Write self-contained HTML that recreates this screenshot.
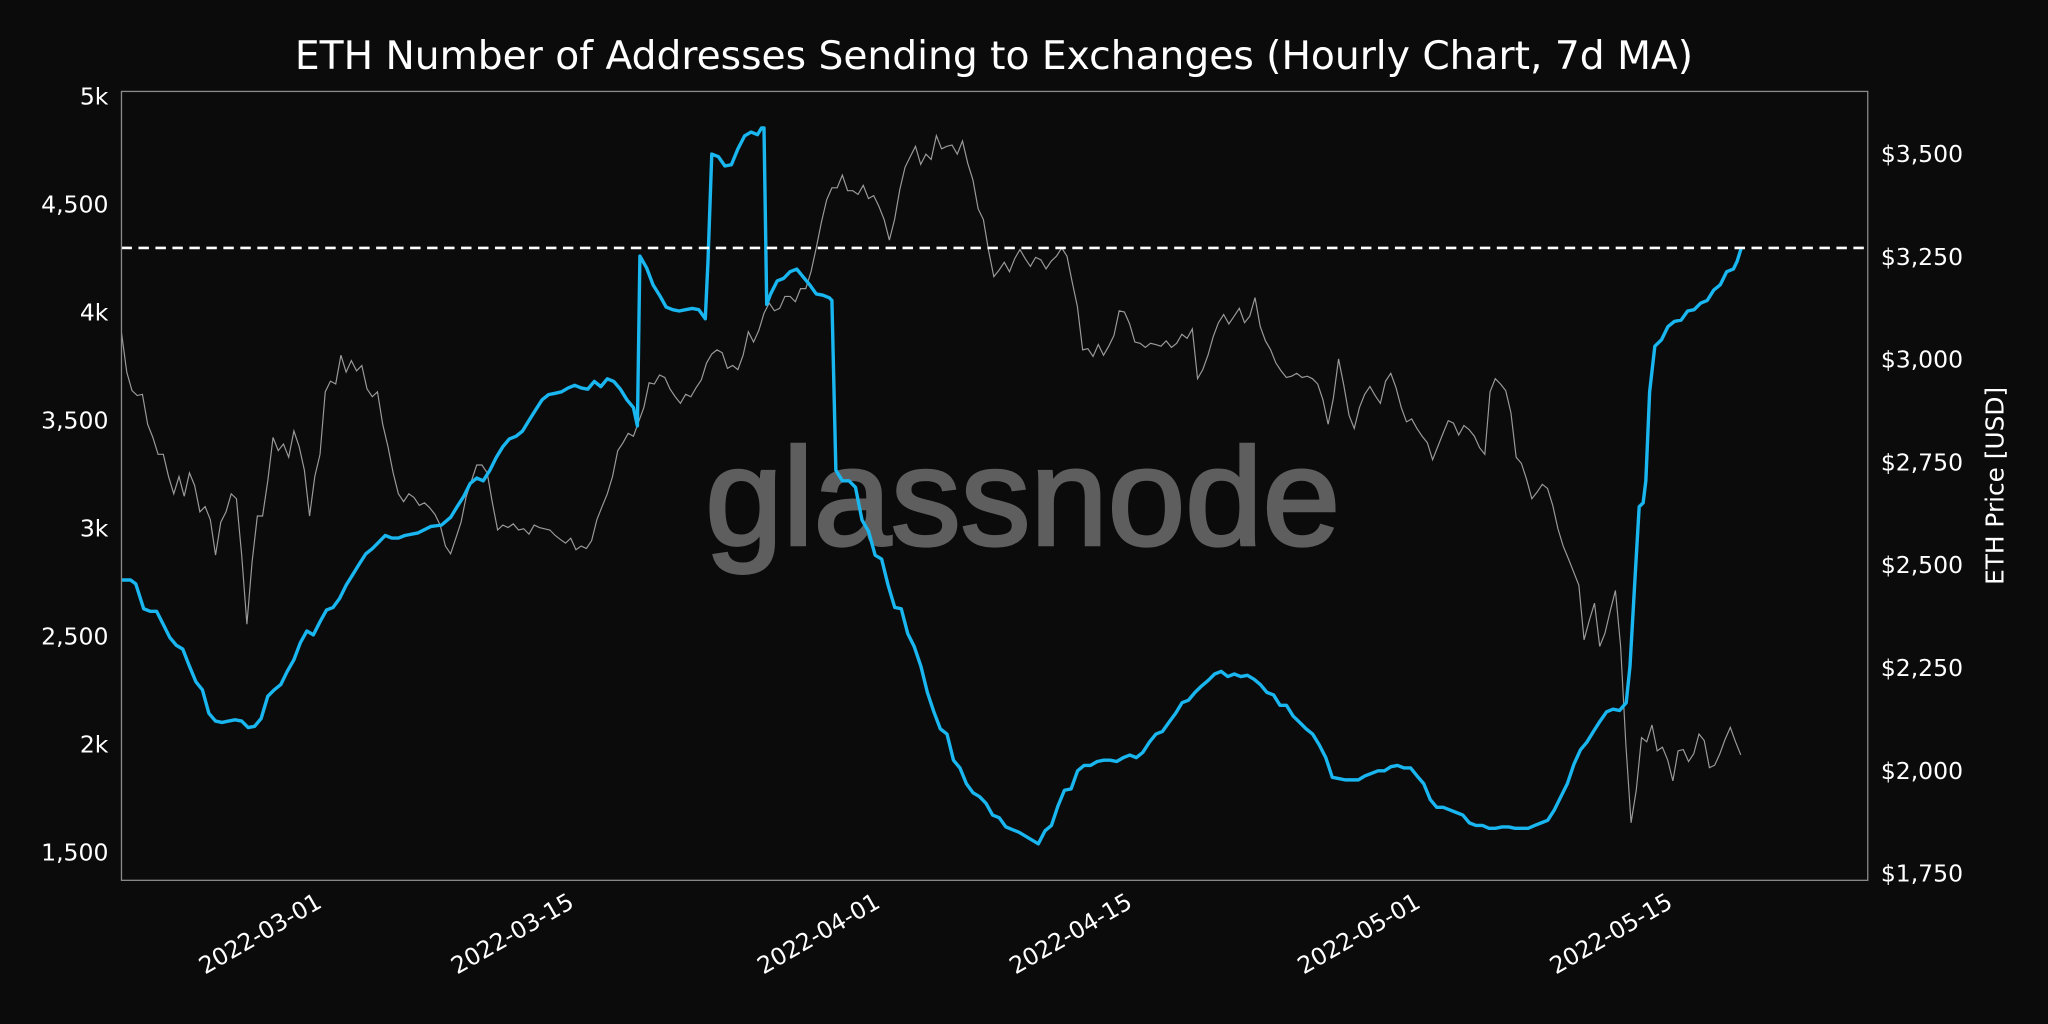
<!DOCTYPE html>
<html><head><meta charset="utf-8"><style>
html,body{margin:0;padding:0;background:#0b0b0b;}
svg{display:block;font-family:"DejaVu Sans","Liberation Sans",sans-serif;}
</style></head><body>
<svg id="chart" width="2048" height="1024" viewBox="0 0 1568 784" xmlns="http://www.w3.org/2000/svg">
<rect x="0" y="0" width="1568" height="784" fill="#0b0b0b"/>
<text x="761" y="53" font-size="30" fill="#ffffff" text-anchor="middle">ETH Number of Addresses Sending to Exchanges (Hourly Chart, 7d MA)</text>
<text x="783" y="417" font-size="106" fill="#5e5e5e" stroke="#5e5e5e" stroke-width="2.5" text-anchor="middle" textLength="486" lengthAdjust="spacingAndGlyphs" style="font-family:'Liberation Sans',sans-serif">glassnode</text>
<g id="axes"></g>
<g id="series"></g>
<rect x="93" y="70" width="1337" height="604" fill="none" stroke="#8a8a8a" stroke-width="1"/>
<text transform="translate(1534,372) rotate(-90)" font-size="19" fill="#ffffff" text-anchor="middle">ETH Price [USD]</text>
</svg>
<script>
// Day offsets relative to 2022-03-01
const xTickDays = [0, 14, 31, 45, 61, 75];
const xTickLabels = ["2022-03-01","2022-03-15","2022-04-01","2022-04-15","2022-05-01","2022-05-15"];
const leftTicks = [1500,2000,2500,3000,3500,4000,4500,5000];
const leftTickLabels = ["1,500","2k","2,500","3k","3,500","4k","4,500","5k"];
const rightTicks = [1750,2000,2250,2500,2750,3000,3250,3500];
const rightTickLabels = ["$1,750","$2,000","$2,250","$2,500","$2,750","$3,000","$3,250","$3,500"];
const thresholdValue = 4300;

const blueDays = [-11.20,-10.70,-10.41,-9.97,-9.61,-9.25,-8.88,-8.52,-8.16,-7.80,-7.43,-7.07,-6.71,-6.35,-5.98,-5.62,-5.26,-4.90,-4.53,-4.17,-3.81,-3.45,-3.08,-2.72,-2.36,-2.00,-1.63,-1.27,-0.91,-0.55,-0.18,0.18,0.54,0.91,1.27,1.63,1.99,2.36,2.72,3.08,3.44,3.81,4.17,4.53,5.26,5.98,6.56,7.07,7.43,7.80,8.16,8.52,8.88,9.25,9.61,9.97,10.33,10.70,11.06,11.42,11.78,12.15,12.51,12.87,13.23,13.60,13.96,14.32,14.68,15.05,15.41,15.77,16.13,16.50,16.86,17.22,17.44,17.58,17.95,18.31,18.67,19.04,19.40,19.76,20.12,20.49,20.85,21.21,21.36,21.57,21.94,22.30,22.66,23.02,23.39,23.75,24.11,24.33,24.47,24.62,24.84,25.20,25.56,25.92,26.29,26.65,27.01,27.37,27.74,28.10,28.24,28.46,28.82,29.19,29.55,29.91,30.28,30.64,31.00,31.36,31.73,32.09,32.45,32.81,33.18,33.54,33.90,34.26,34.63,34.99,35.35,35.71,36.08,36.44,36.80,37.16,37.53,37.89,38.25,38.62,38.98,39.34,39.70,40.07,40.43,40.79,41.15,41.52,41.88,42.24,42.60,42.97,43.33,43.69,44.05,44.42,44.78,45.14,45.50,45.87,46.23,46.59,46.95,47.32,47.68,48.04,48.40,48.77,49.13,49.49,49.85,50.22,50.58,50.94,51.31,51.67,52.03,52.39,52.76,53.12,53.48,53.84,54.21,54.57,54.93,55.29,55.66,56.02,56.38,56.74,57.11,57.47,57.83,58.19,58.56,58.92,59.28,59.64,60.01,60.37,60.73,61.10,61.46,61.82,62.18,62.55,62.91,63.27,63.63,64.00,64.36,64.72,65.08,65.45,65.81,66.17,66.53,66.90,67.26,67.62,67.98,68.35,68.71,69.07,69.44,69.80,70.16,70.52,70.89,71.25,71.61,71.97,72.34,72.55,72.84,73.06,73.28,73.43,73.64,73.93,74.30,74.66,75.02,75.39,75.75,76.11,76.47,76.84,77.20,77.56,77.92,78.29,78.50,78.72];
const blueValues = [2763,2763,2745,2630,2618,2618,2557,2497,2461,2443,2364,2292,2255,2146,2110,2104,2110,2116,2110,2080,2086,2122,2225,2255,2279,2340,2394,2473,2527,2509,2570,2624,2636,2678,2739,2787,2836,2884,2908,2938,2969,2957,2957,2969,2981,3011,3017,3053,3102,3150,3210,3235,3222,3271,3331,3380,3416,3428,3452,3501,3549,3597,3621,3627,3634,3652,3664,3652,3646,3682,3658,3694,3682,3646,3597,3561,3476,4262,4208,4129,4081,4026,4014,4008,4014,4020,4014,3972,4238,4734,4722,4679,4685,4758,4818,4836,4824,4855,4855,4039,4087,4147,4159,4190,4202,4165,4129,4087,4081,4069,4057,3271,3222,3222,3192,3041,2987,2878,2860,2739,2636,2630,2515,2455,2364,2243,2153,2074,2050,1929,1893,1820,1778,1760,1729,1675,1663,1621,1608,1596,1578,1560,1542,1602,1627,1717,1790,1796,1880,1905,1905,1923,1929,1929,1923,1941,1953,1941,1965,2013,2050,2062,2104,2146,2195,2207,2243,2273,2298,2328,2340,2316,2328,2316,2322,2304,2279,2243,2231,2183,2183,2134,2104,2074,2050,2001,1941,1850,1844,1838,1838,1838,1856,1868,1880,1880,1899,1905,1893,1893,1856,1820,1747,1711,1711,1699,1687,1675,1639,1627,1627,1614,1614,1620,1620,1614,1614,1614,1627,1639,1651,1699,1760,1820,1911,1977,2013,2062,2110,2153,2165,2159,2195,2364,2787,3102,3120,3222,3634,3845,3875,3936,3960,3966,4008,4014,4044,4057,4105,4129,4190,4202,4238,4298];

const priceStartDay = -11.2;
const priceStepDays = 0.29;
const priceValues = [3065,2970,2925,2913,2916,2843,2811,2770,2770,2716,2674,2716,2668,2725,2694,2630,2643,2611,2525,2605,2630,2674,2662,2525,2357,2509,2620,2620,2706,2811,2779,2795,2763,2827,2789,2732,2620,2716,2770,2922,2948,2941,3011,2970,2998,2973,2986,2929,2910,2922,2843,2789,2725,2674,2655,2674,2665,2646,2652,2640,2624,2598,2547,2528,2566,2605,2668,2706,2744,2744,2725,2652,2586,2598,2592,2601,2586,2589,2576,2598,2592,2589,2586,2573,2563,2554,2566,2538,2547,2541,2560,2611,2643,2674,2716,2779,2798,2821,2814,2849,2884,2944,2941,2963,2957,2929,2910,2894,2916,2910,2932,2951,2992,3014,3024,3017,2979,2986,2976,3011,3068,3043,3071,3113,3138,3119,3125,3154,3154,3141,3173,3173,3214,3272,3335,3389,3418,3418,3449,3411,3411,3402,3424,3392,3399,3373,3341,3291,3341,3414,3468,3494,3519,3475,3500,3487,3545,3513,3519,3522,3500,3532,3478,3437,3367,3341,3265,3202,3218,3237,3214,3246,3268,3246,3227,3249,3243,3221,3240,3252,3272,3252,3189,3129,3024,3027,3008,3037,3011,3033,3059,3119,3116,3087,3043,3040,3030,3040,3037,3033,3046,3030,3040,3062,3052,3075,2954,2976,3011,3056,3090,3110,3087,3106,3125,3090,3106,3151,3081,3046,3024,2992,2973,2957,2960,2967,2957,2960,2954,2941,2903,2843,2906,3002,2938,2865,2833,2884,2916,2935,2913,2894,2948,2967,2932,2884,2849,2856,2833,2814,2798,2757,2789,2821,2852,2846,2817,2840,2830,2814,2786,2770,2922,2954,2941,2925,2871,2763,2748,2709,2662,2678,2697,2687,2646,2589,2547,2516,2484,2452,2319,2366,2408,2303,2335,2389,2439,2303,2065,1874,1954,2081,2071,2112,2049,2058,2027,1976,2049,2052,2023,2042,2090,2074,2008,2014,2042,2077,2106,2071,2039];

const PL=93, PR=1430, PT=70, PB=674;
const xScale = d => 247.5 + d*13.79;
const yLeft = v => 74 + (5000 - v)*0.16543;
const yRight = p => 118 + (3500 - p)*0.31486;
const NS = "http://www.w3.org/2000/svg";
const axes = document.getElementById('axes');
const series = document.getElementById('series');
function mk(tag, attrs, parent){ const e=document.createElementNS(NS,tag); for(const k in attrs) e.setAttribute(k,attrs[k]); parent.appendChild(e); return e; }

leftTicks.forEach((v,i)=>{
  const t = mk('text',{x:83,y:yLeft(v)+6,'font-size':18,fill:'#fff','text-anchor':'end'},axes);
  t.textContent = leftTickLabels[i];
  
  
});
rightTicks.forEach((p,i)=>{
  const t = mk('text',{x:1440,y:yRight(p)+6,'font-size':18,fill:'#fff','text-anchor':'start'},axes);
  t.textContent = rightTickLabels[i];
  
  
});
xTickDays.forEach((d,i)=>{
  const x = xScale(d);
  const t = mk('text',{x:x,y:694,'font-size':18,fill:'#fff','text-anchor':'end',transform:`rotate(-30 ${x} 694)`},axes);
  t.textContent = xTickLabels[i];
  
  
});

// price line
let pd = priceValues.map((p,i)=>(i?'L':'M')+xScale(priceStartDay+i*priceStepDays).toFixed(2)+' '+yRight(p).toFixed(2)).join(' ');
const pl = mk('path',{d:pd,fill:'none',stroke:'#9a9a9a','stroke-width':0.9},series);



// blue line
let bd = blueValues.map((v,i)=>(i?'L':'M')+xScale(blueDays[i]).toFixed(2)+' '+yLeft(v).toFixed(2)).join(' ');
const bl = mk('path',{d:bd,fill:'none',stroke:'#19b6f0','stroke-width':2.6,'stroke-linejoin':'round'},series);



// threshold
const th = mk('line',{x1:PL,x2:PR,y1:yLeft(thresholdValue),y2:yLeft(thresholdValue),stroke:'#ffffff','stroke-width':2,'stroke-dasharray':'8 5'},series);


</script>
</body></html>
